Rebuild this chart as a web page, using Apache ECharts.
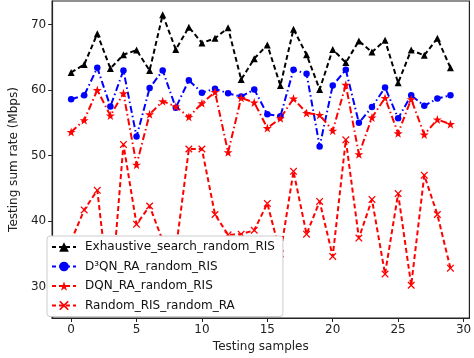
<!DOCTYPE html>
<html><head><meta charset="utf-8">
<script src="https://cdn.jsdelivr.net/npm/echarts@6/dist/echarts.min.js"></script>
<style>html,body{margin:0;padding:0;background:#fff}#c{width:474px;height:358px}</style>
</head><body><div id="c"></div>
<script>
const samples = Array.from({length: 30}, (_, i) => i);
const exhaustive = [62.7,63.9,68.6,63.3,65.4,66.1,63.0,71.5,66.2,69.6,67.2,67.9,69.5,61.6,64.8,66.9,60.7,69.3,65.4,60.1,66.2,64.2,67.5,65.8,67.6,61.1,66.1,65.3,67.9,63.4];
const d3qn = [58.6,59.2,63.4,57.5,63.0,52.9,60.3,63.0,57.3,61.5,59.6,60.2,59.5,59.0,60.1,56.3,56.0,63.1,62.5,51.4,60.7,63.1,55.0,57.4,60.4,55.7,59.2,57.6,58.7,59.2];
const dqn = [53.6,55.4,60.0,56.1,59.5,48.6,56.3,58.3,57.5,55.9,58.0,59.7,50.5,58.8,58.1,54.2,55.7,58.7,56.5,56.2,53.8,60.8,50.2,55.8,58.8,53.4,58.6,53.2,55.5,54.8];
const randomRA = [37.0,41.7,44.7,27.4,51.7,39.5,42.3,37.0,35.5,51.0,51.0,41.0,37.9,38.0,38.6,42.7,35.0,47.6,38.0,43.0,34.6,52.4,37.4,43.3,31.9,44.2,30.2,47.0,41.0,32.8];
const xTicks = [0,5,10,15,20,25,30];
const yTicks = [30,40,50,60,70];
const names = ['Exhaustive_search_random_RIS','D\u00b3QN_RA_random_RIS','DQN_RA_random_RIS','Random_RIS_random_RA'];

const STAR = 'path://M50,0 L61.8,35.3 L98.5,35.3 L68.8,57 L80,92 L50,70.5 L20,92 L31.2,57 L1.5,35.3 L38.2,35.3 Z';
const XMARK = 'path://M0,12 L12,0 L50,38 L88,0 L100,12 L62,50 L100,88 L88,100 L50,62 L12,100 L0,88 L38,50 Z';
const font = 'DejaVu Sans';
const DASH = [5,3];
const DASHDOT = [7,3,1.5,3];
function pts(arr){ return arr.map((v,i)=>[samples[i], v]); }
function mk(name, data, color, dash, symbol, size){
  return {name, type:'line', data: pts(data), symbol, symbolSize:size,
    showSymbol:true, itemStyle:{color:color},
    lineStyle:{color:color, width:2, type:dash}, z:2};
}
const styles = [
  {c:'#000000', d:DASH, s:'triangle', z:7},
  {c:'#0000ff', d:DASHDOT, s:'circle', z:6.5},
  {c:'#ff0000', d:DASHDOT, s:STAR, z:9},
  {c:'#ff0000', d:DASH, s:XMARK, z:7.5}
];
const series = [exhaustive, d3qn, dqn, randomRA].map((arr,i)=>mk(names[i], arr, styles[i].c, styles[i].d, styles[i].s, styles[i].z));
const chart = echarts.init(document.getElementById('c'), null, {renderer:'canvas'});
chart.setOption({
  animation:false,
  backgroundColor:'#fff',
  textStyle:{fontFamily:font},
  grid:{left:41, right:4, top:1, bottom:37, show:true, borderColor:'#222', borderWidth:1.2, backgroundColor:'transparent'},
  xAxis:{type:'value', min:-1.45, max:30.45,
    name:'Testing samples', nameLocation:'middle', nameGap:23,
    nameTextStyle:{fontFamily:font, fontSize:12, color:'#222'},
    axisLine:{show:true, onZero:false, lineStyle:{color:'#222', width:1.2}},
    axisTick:{show:true, customValues:xTicks, length:4, inside:false, lineStyle:{color:'#222'}},
    axisLabel:{customValues:xTicks, fontFamily:font, fontSize:12, color:'#222', margin:6},
    splitLine:{show:false}},
  yAxis:{type:'value', min:25.2, max:73.6,
    name:'Testing sum rate (Mbps)', nameLocation:'middle', nameGap:27,
    nameTextStyle:{fontFamily:font, fontSize:12, color:'#222'},
    axisLine:{show:true, onZero:false, lineStyle:{color:'#222', width:1.2}},
    axisTick:{show:true, customValues:yTicks, length:4, lineStyle:{color:'#222'}},
    axisLabel:{customValues:yTicks, fontFamily:font, fontSize:12, color:'#222', margin:6},
    splitLine:{show:false}},
  legend:{orient:'vertical', left:47, top:236,
    data: names.map((n,i)=>({name:n, lineStyle:{type:[4,3], width:2, color:styles[i].c}})),
    backgroundColor:'#fff', borderColor:'#ccc', borderWidth:1, borderRadius:3,
    padding:[5,8,5,4], itemGap:7.5, itemWidth:24, itemHeight:12,
    textStyle:{fontFamily:font, fontSize:12, color:'#111', padding:[0,0,0,4]}},
  series
});
</script></body></html>
